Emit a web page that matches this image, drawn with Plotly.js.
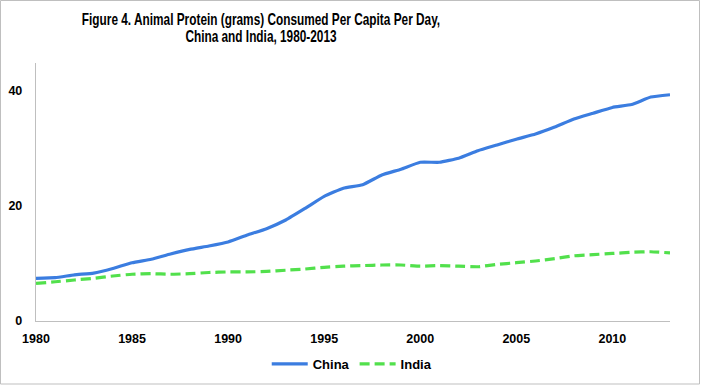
<!DOCTYPE html>
<html>
<head>
<meta charset="utf-8">
<script src="https://cdn.plot.ly/plotly-3.0.1.min.js"></script>
<style>html,body{margin:0;padding:0;background:#fff;}#chart{width:701px;height:385px;}</style>
</head>
<body>
<div id="chart"></div>
<script>
const years = [1980,1981,1982,1983,1984,1985,1986,1987,1988,1989,1990,1991,1992,1993,1994,1995,1996,1997,1998,1999,2000,2001,2002,2003,2004,2005,2006,2007,2008,2009,2010,2011,2012,2013];
const china = [7.4,7.5,8.0,8.3,9.1,10.1,10.7,11.6,12.4,13.0,13.7,14.9,16.0,17.5,19.5,21.6,23.0,23.6,25.3,26.3,27.5,27.5,28.2,29.5,30.5,31.5,32.4,33.6,35.0,36.0,37.0,37.5,38.8,39.2];
const india = [6.5,6.8,7.1,7.4,7.8,8.1,8.2,8.1,8.2,8.4,8.5,8.5,8.6,8.8,9.0,9.3,9.5,9.6,9.7,9.7,9.5,9.6,9.5,9.4,9.8,10.1,10.4,10.8,11.3,11.5,11.7,11.9,12.0,11.8];
const xTicks = [1980,1985,1990,1995,2000,2005,2010];
const yTicks = [0,20,40];
const seriesNames = ['China','India'];
const titleText = 'Figure 4. Animal Protein (grams) Consumed Per Capita Per Day,<br>China and India, 1980-2013';

const font = 'Liberation Sans, Arial, sans-serif';
const traces = [
  {x: years, y: china, name: seriesNames[0], type: 'scatter', mode: 'lines',
   line: {color: '#3b7de0', width: 3.2, shape: 'spline', smoothing: 0.4}},
  {x: years, y: india, name: seriesNames[1], type: 'scatter', mode: 'lines',
   line: {color: '#52e04c', width: 3.2, dash: '10px,5px', shape: 'spline', smoothing: 0.4}}
];
const layout = {
  width: 701, height: 385,
  margin: {l: 36, r: 31, t: 63, b: 64},
  paper_bgcolor: '#fff', plot_bgcolor: '#fff',
  font: {family: font, color: '#000'},
  title: {text: '<b>' + titleText + '</b>', font: {family: font, size: 16, color: '#000'},
          x: 261/701, xref: 'container', xanchor: 'center', y: 1 - 28/385, yref: 'container', yanchor: 'middle'},
  xaxis: {range: [1980, 2013], tickvals: xTicks, ticktext: xTicks.map(String),
          showgrid: false, zeroline: false, showline: true, linecolor: '#bfbfbf', linewidth: 1.2,
          ticks: 'outside', ticklen: 6, tickcolor: 'rgba(0,0,0,0)',
          tickfont: {family: font, size: 12.5, color: '#000', weight: 'bold'}},
  yaxis: {range: [0, 44.7], tickvals: yTicks, ticktext: yTicks.map(String),
          showgrid: false, zeroline: false, showline: true, linecolor: '#bfbfbf', linewidth: 1.2,
          ticks: 'outside', ticklen: 10, tickcolor: 'rgba(0,0,0,0)',
          tickfont: {family: font, size: 12.5, color: '#000', weight: 'bold'}},
  showlegend: true,
  legend: {orientation: 'h', x: 0.498, xanchor: 'center', yref: 'container', y: 1 - 364/385, yanchor: 'middle',
           font: {family: font, size: 13, color: '#000', weight: 'bold'}, itemwidth: 36, tracegroupgap: 0},
  shapes: [{type: 'rect', xref: 'paper', yref: 'paper',
            x0: (0.5-36)/634, x1: (699.5-36)/634, y0: (321-384)/258, y1: (321-0.5)/258,
            line: {color: '#bfbfbf', width: 1}, fillcolor: 'rgba(0,0,0,0)', layer: 'below'}]
};
Plotly.newPlot('chart', traces, layout, {staticPlot: true, displayModeBar: false}).then(function (gd) {
  // The reference title is set in a horizontally condensed face with tight leading; emulate it.
  const t = gd.querySelector('text.gtitle');
  if (!t) return;
  t.querySelectorAll('tspan.line').forEach(function (ts, i) {
    if (i > 0) ts.setAttribute('dy', '17px');
  });
  const bb = t.getBBox();
  const cx = bb.x + bb.width / 2;
  const targetTop = 25.7 - 0.905 * 16;
  const dy = targetTop - bb.y;
  const prev = t.getAttribute('transform') || '';
  t.setAttribute('transform', prev + ' translate(' + cx + ',' + dy + ') scale(0.74,1) translate(' + (-cx) + ',0)');
});
</script>
</body>
</html>
